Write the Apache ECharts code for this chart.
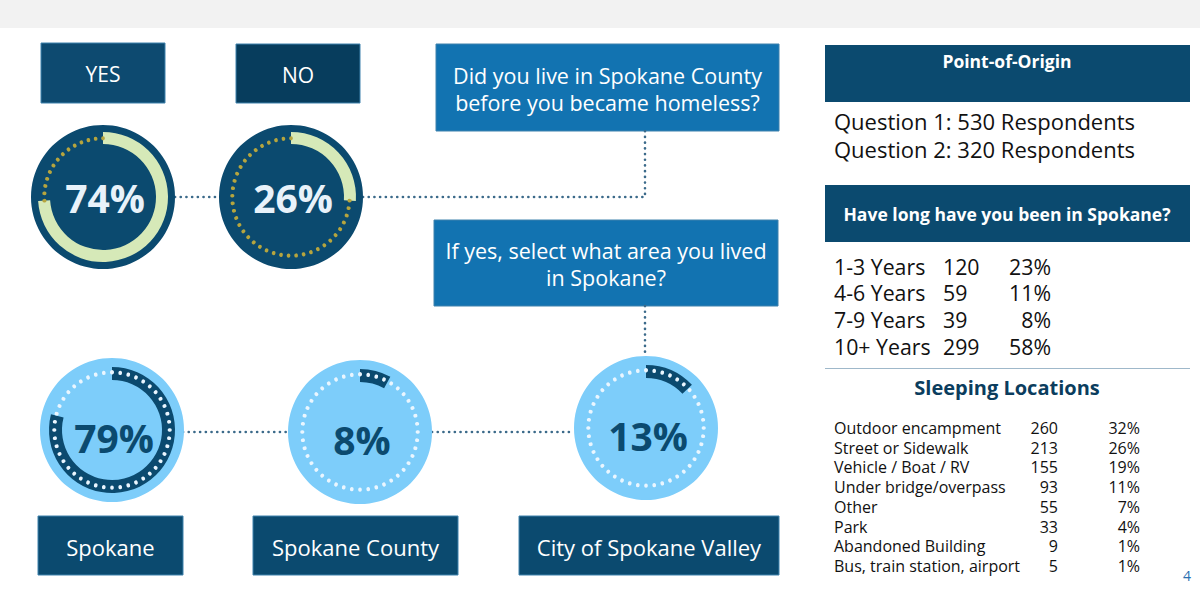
<!DOCTYPE html>
<html>
<head>
<meta charset="utf-8">
<script src="https://cdn.jsdelivr.net/npm/echarts@6/dist/echarts.min.js"></script>
<style>
  html, body { margin: 0; padding: 0; background: #fff; }
  #chart { width: 1200px; height: 600px; }
</style>
</head>
<body>
<div id="chart"></div>
<script>
// ---- data ----
var answerLabels = ['YES', 'NO'];
var answerPct = [74, 26];
var areaLabels = ['Spokane', 'Spokane County', 'City of Spokane Valley'];
var areaPct = [79, 8, 13];
var questionTexts = [
  'Did you live in Spokane County\nbefore you became homeless?',
  'If yes, select what area you lived\nin Spokane?'
];
var respondentCounts = [530, 320];
var yearLabels = ['1-3 Years', '4-6 Years', '7-9 Years', '10+ Years'];
var yearCounts = [120, 59, 39, 299];
var yearPct = [23, 11, 8, 58];
var sleepLabels = ['Outdoor encampment', 'Street or Sidewalk', 'Vehicle / Boat / RV',
  'Under bridge/overpass', 'Other', 'Park', 'Abandoned Building', 'Bus, train station, airport'];
var sleepCounts = [260, 213, 155, 93, 55, 33, 9, 5];
var sleepPct = [32, 26, 19, 11, 7, 4, 1, 1];

// ---- layout ----
var FONT = 'Open Sans';
var NAVY = '#0b4a6f';
var topCenters = [[103, 197], [291, 197]];
var bottomCenters = [[112, 430], [360, 432], [646, 428]];
var answerBoxes = [[41, 43, 124, 60, '#0d4a70'], [236, 44, 124, 59, '#073d5d']];
var questionBoxes = [[436, 44, 343, 87], [434, 220, 344, 86]];
var areaBoxes = [[38, 516, 145, 59], [253, 516, 205, 59], [519, 516, 260, 59]];
var connectors = [
  [[175, 197], [220, 197]],
  [[363, 197], [645, 197], [645, 131]],
  [[645, 306], [645, 356]],
  [[183, 432], [287, 432]],
  [[432, 432], [574, 432]]
];

function donut(center, pct, o) {
  var list = [];
  list.push({
    type: 'pie', silent: true, animation: false, center: center, radius: [0, o.r],
    label: { show: false }, labelLine: { show: false },
    itemStyle: { borderWidth: 0 },
    data: [{ value: 1, itemStyle: { color: o.fill } }]
  });
  list.push({
    type: 'pie', silent: true, animation: false, center: center, radius: [o.r0, o.r1],
    startAngle: 90, clockwise: true, avoidLabelOverlap: false,
    labelLine: { show: false }, itemStyle: { borderWidth: 0 },
    emphasis: { disabled: true },
    data: [
      {
        value: pct, itemStyle: { color: o.arc },
        label: {
          show: true, position: 'center', formatter: '{c}%', color: o.text,
          fontSize: 39, fontWeight: 'bold', fontFamily: FONT, offset: [2, o.dy]
        }
      },
      { value: 100 - pct, itemStyle: { color: 'rgba(0,0,0,0)' }, label: { show: false } }
    ]
  });
  var start = o.fullDots ? 90 : 90 - 3.6 * pct;
  var n = o.fullDots ? o.dots : Math.round(o.dots * (100 - pct) / 100);
  list.push({
    type: 'gauge', silent: true, animation: false, z: 5, center: center, radius: o.dotR,
    startAngle: start, endAngle: -270, min: 0, max: 100, splitNumber: n,
    axisLine: { show: false, lineStyle: { width: 0 } },
    axisTick: { show: false }, axisLabel: { show: false },
    splitLine: { show: true, distance: 0, length: 0.6, lineStyle: { color: o.dot, width: 3.6, cap: 'round' } },
    pointer: { show: false }, anchor: { show: false }, title: { show: false }, detail: { show: false },
    data: [{ value: 0 }]
  });
  return list;
}

var series = [];
answerPct.forEach(function (p, i) {
  series = series.concat(donut(topCenters[i], p, {
    r: 72, r0: 53, r1: 65, dotR: 59, dots: 49, fill: NAVY, arc: '#d6e9b8',
    dot: '#b6a53e', text: '#e8f2fa', dy: 0, fullDots: false
  }));
});
areaPct.forEach(function (p, i) {
  series = series.concat(donut(bottomCenters[i], p, {
    r: 72, r0: 50, r1: 63, dotR: 58, dots: 44, fill: '#7dcdfa', arc: NAVY,
    dot: '#eaf6ff', text: NAVY, dy: 7, fullDots: true
  }));
});

var graphics = [];
graphics.push({ type: 'rect', shape: { x: 0, y: 0, width: 1200, height: 28 }, style: { fill: '#f2f2f2' } });

function box(b, fill, text, fontSize, lh) {
  graphics.push({ type: 'rect', shape: { x: b[0], y: b[1], width: b[2], height: b[3] },
    style: { fill: fill, stroke: '#3f82ad', lineWidth: 1 } });
  graphics.push({ type: 'text', style: {
    text: text, x: b[0] + b[2] / 2, y: b[1] + b[3] / 2 + 1, align: 'center', verticalAlign: 'middle',
    fill: '#ffffff', fontSize: fontSize, fontFamily: FONT, lineHeight: lh || fontSize * 1.3 } });
}
answerLabels.forEach(function (t, i) { box(answerBoxes[i], answerBoxes[i][4], t, 21); });
questionTexts.forEach(function (t, i) { box(questionBoxes[i], '#1273b1', t, 21.5, 27); });
areaLabels.forEach(function (t, i) { box(areaBoxes[i], NAVY, t, 22); });

connectors.forEach(function (pts) {
  graphics.push({ type: 'polyline', shape: { points: pts },
    style: { stroke: '#3b6a8a', lineWidth: 2.6, lineDash: [0.1, 5.6], lineCap: 'round', fill: null } });
});

// right panel
function txt(s, x, y, size, opts) {
  opts = opts || {};
  graphics.push({ type: 'text', style: {
    text: s, x: x, y: y, align: opts.align || 'left', verticalAlign: 'middle',
    fill: opts.color || '#111111', fontSize: size, fontWeight: opts.bold ? 'bold' : 'normal',
    fontFamily: FONT, lineHeight: Math.round(size * 1.12) } });
}
graphics.push({ type: 'rect', shape: { x: 825, y: 45, width: 365, height: 57 }, style: { fill: NAVY } });
txt('Point-of-Origin', 1007, 61, 17.5, { align: 'center', bold: true, color: '#ffffff' });
respondentCounts.forEach(function (c, i) {
  txt('Question ' + (i + 1) + ': ' + c + ' Respondents', 834, 121 + i * 28, 22);
});
graphics.push({ type: 'rect', shape: { x: 825, y: 185, width: 365, height: 57 }, style: { fill: NAVY } });
txt('Have long have you been in Spokane?', 1007, 214, 17.5, { align: 'center', bold: true, color: '#ffffff' });
yearLabels.forEach(function (l, i) {
  var y = 266 + i * 26.9;
  txt(l, 834, y, 21.3);
  txt(String(yearCounts[i]), 943, y, 21.3);
  txt(yearPct[i] + '%', 1051, y, 21.3, { align: 'right' });
});
graphics.push({ type: 'line', shape: { x1: 825, y1: 368.5, x2: 1190, y2: 368.5 }, style: { stroke: '#9fb8ca', lineWidth: 1 } });
txt('Sleeping Locations', 1007, 387, 20, { align: 'center', bold: true, color: '#0b3d5e' });
sleepLabels.forEach(function (l, i) {
  var y = 428 + i * 19.7;
  txt(l, 834, y, 16);
  txt(String(sleepCounts[i]), 1058, y, 16, { align: 'right' });
  txt(sleepPct[i] + '%', 1140, y, 16, { align: 'right' });
});
txt('4', 1187, 575, 14, { align: 'center', color: '#2a6fb0' });

var chart = echarts.init(document.getElementById('chart'), null, { renderer: 'svg' });
chart.setOption({
  backgroundColor: '#ffffff',
  animation: false,
  series: series,
  graphic: { elements: graphics }
});
</script>
</body>
</html>
